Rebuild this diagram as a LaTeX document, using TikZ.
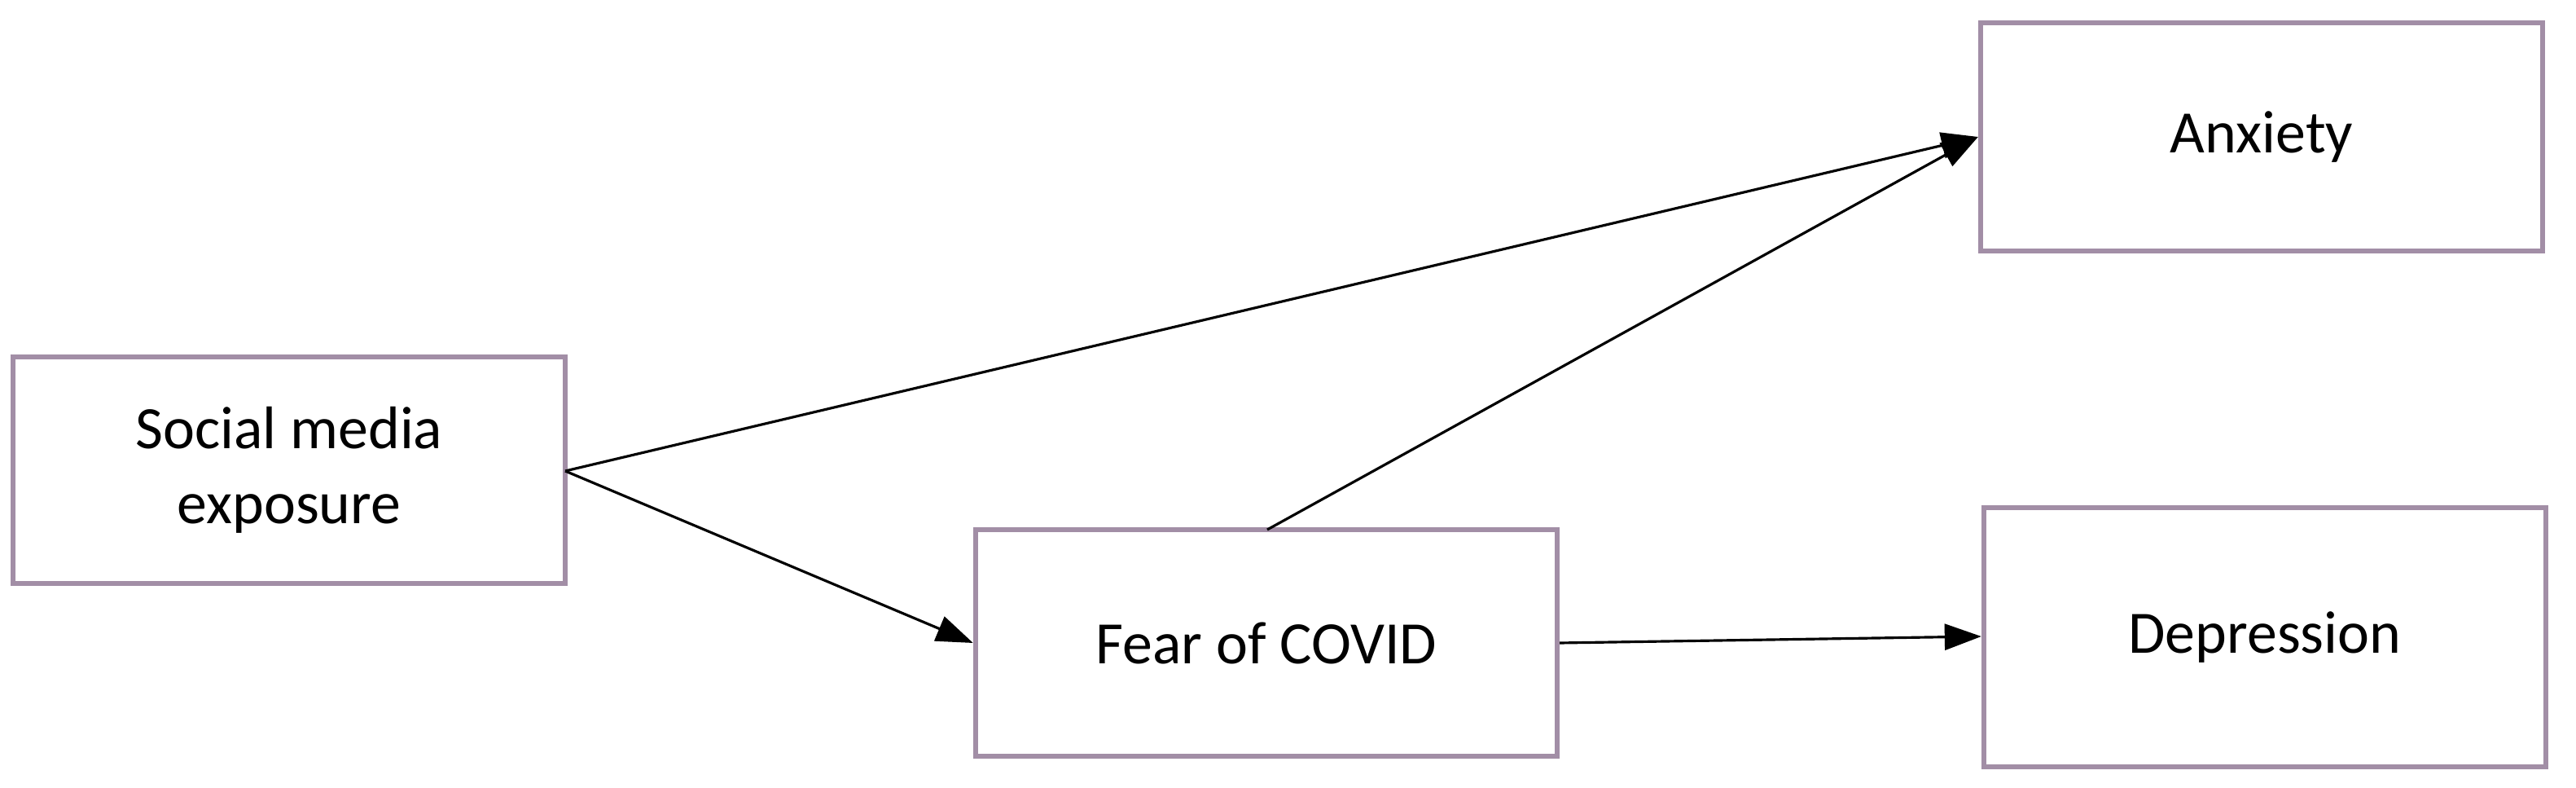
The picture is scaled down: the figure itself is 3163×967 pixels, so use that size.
\documentclass[tikz,border=0pt]{standalone}
\usepackage{fontspec}
\setmainfont{Carlito}
\usetikzlibrary{arrows.meta}
\definecolor{boxc}{RGB}{162,142,166}
\begin{document}
\begin{tikzpicture}[x=0.01cm,y=-0.01cm,
  box/.style={draw=boxc,line width=1.7pt,fill=white,font=\fontsize{21}{26}\selectfont,align=center,inner sep=0pt},
  arr/.style={line width=0.9pt,-{Triangle[length=0.45cm,width=0.32cm]}}]
\useasboundingbox (0,0) rectangle (3163,967);
\node[box,minimum width=6.78cm,minimum height=2.78cm] (s) at (355,577) {Social media\\exposure};
\node[box,minimum width=7.14cm,minimum height=2.78cm] (f) at (1555,789) {Fear of COVID};
\node[box,minimum width=6.9cm,minimum height=2.79cm] (a) at (2777,168) {Anxiety};
\node[box,minimum width=6.9cm,minimum height=3.17cm] (d) at (2781,782) {Depression};
\coordinate (sr) at (694,578);
\draw[arr] (sr) -- (a.west);
\draw[arr] (sr) -- (f.west);
\draw[arr] (1556,650) -- (a.west);
\draw[arr] (f.east) -- (d.west |- 0,781);
\end{tikzpicture}
\end{document}
